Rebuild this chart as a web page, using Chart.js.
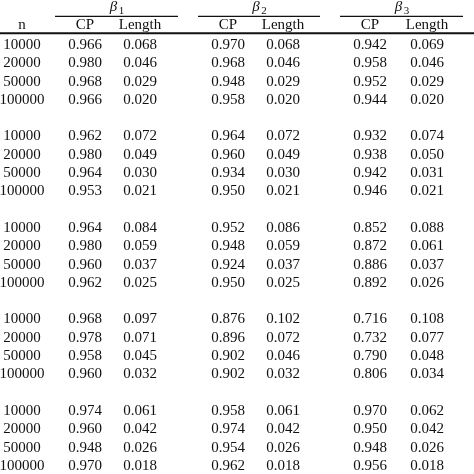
<!DOCTYPE html>
<html><head><meta charset="utf-8">
<script src="https://cdn.jsdelivr.net/npm/chart.js@4"></script>
<style>html,body{margin:0;padding:0;background:#fff}#c{width:474px;height:474px}</style>
</head><body><div id="c"><canvas id="tbl"></canvas></div>
<script>
// table content
const nValues = ["10000", "20000", "50000", "100000"]
const params = ["\u03B2", "\u03B2", "\u03B2"]
const paramSubs = ["1", "2", "3"]
const subHeads = ["CP", "Length"]
// each column: 5 groups x 4 rows
const cp1 = ["0.966","0.980","0.968","0.966", "0.962","0.980","0.964","0.953", "0.964","0.980","0.960","0.962", "0.968","0.978","0.958","0.960", "0.974","0.960","0.948","0.970"]
const len1 = ["0.068","0.046","0.029","0.020", "0.072","0.049","0.030","0.021", "0.084","0.059","0.037","0.025", "0.097","0.071","0.045","0.032", "0.061","0.042","0.026","0.018"]
const cp2 = ["0.970","0.968","0.948","0.958", "0.964","0.960","0.934","0.950", "0.952","0.948","0.924","0.950", "0.876","0.896","0.902","0.902", "0.958","0.974","0.954","0.962"]
const len2 = ["0.068","0.046","0.029","0.020", "0.072","0.049","0.030","0.021", "0.086","0.059","0.037","0.025", "0.102","0.072","0.046","0.032", "0.061","0.042","0.026","0.018"]
const cp3 = ["0.942","0.958","0.952","0.944", "0.932","0.938","0.942","0.946", "0.852","0.872","0.886","0.892", "0.716","0.732","0.790","0.806", "0.970","0.950","0.948","0.956"]
const len3 = ["0.069","0.046","0.029","0.020", "0.074","0.050","0.031","0.021", "0.088","0.061","0.037","0.026", "0.108","0.077","0.048","0.034", "0.062","0.042","0.026","0.018"]

const dataCols = [cp1, len1, cp2, len2, cp3, len3]
const colX = [22, 85, 140, 228, 283, 370, 427]
const groupSpans = [[55, 178], [198, 320], [340, 463]]
const FONT = "15px 'Liberation Serif', 'DejaVu Serif', serif"

const tablePlugin = {
    id: 'tableDraw',
    afterDraw(chart) {
        const ctx = chart.ctx
        const xs = chart.scales.x, ys = chart.scales.y
        ctx.save()
        ctx.fillStyle = "#111"
        ctx.strokeStyle = "#111"
        ctx.font = FONT
        ctx.textAlign = "center"
        ctx.textBaseline = "middle"
        // group header
        params.forEach((p, i) => {
            const cx = (xs.getPixelForValue(groupSpans[i][0]) + xs.getPixelForValue(groupSpans[i][1])) / 2
            const y = ys.getPixelForValue(-2.05)
            ctx.font = "italic " + FONT
            ctx.fillText(p, cx - 3, y)
            ctx.font = "11px 'Liberation Serif', serif"
            ctx.fillText(paramSubs[i], cx + 5, y + 4)
            ctx.font = FONT
            ctx.lineWidth = 1.2
            ctx.beginPath()
            const ly = ys.getPixelForValue(-1.56)
            ctx.moveTo(xs.getPixelForValue(groupSpans[i][0]), ly)
            ctx.lineTo(xs.getPixelForValue(groupSpans[i][1]), ly)
            ctx.stroke()
        })
        const hy = ys.getPixelForValue(-1.1)
        ctx.fillText("n", xs.getPixelForValue(colX[0]), hy)
        for (let c = 0; c < 6; c++) {
            ctx.fillText(subHeads[c % 2], xs.getPixelForValue(colX[c + 1]), hy)
        }
        ctx.lineWidth = 2
        ctx.beginPath()
        const ry = ys.getPixelForValue(-0.64)
        ctx.moveTo(xs.getPixelForValue(0), ry)
        ctx.lineTo(xs.getPixelForValue(474), ry)
        ctx.stroke()
        // body
        for (let g = 0; g < 5; g++) {
            for (let i = 0; i < 4; i++) {
                const y = ys.getPixelForValue(g * 5 + i)
                ctx.fillText(nValues[i], xs.getPixelForValue(colX[0]), y)
                dataCols.forEach((col, c) => {
                    ctx.fillText(col[g * 4 + i], xs.getPixelForValue(colX[c + 1]), y)
                })
            }
        }
        ctx.restore()
    }
}

new Chart(document.getElementById("tbl"), {
    type: "scatter",
    data: { datasets: [{ data: [] }] },
    options: {
        responsive: true,
        maintainAspectRatio: false,
        animation: false,
        layout: { padding: 0 },
        plugins: { legend: { display: false }, tooltip: { enabled: false } },
        scales: {
            x: { type: 'linear', min: 0, max: 474, display: false },
            y: { type: 'linear', min: -2.46, max: 23.44, reverse: true, display: false }
        }
    },
    plugins: [tablePlugin]
})
</script></body></html>
